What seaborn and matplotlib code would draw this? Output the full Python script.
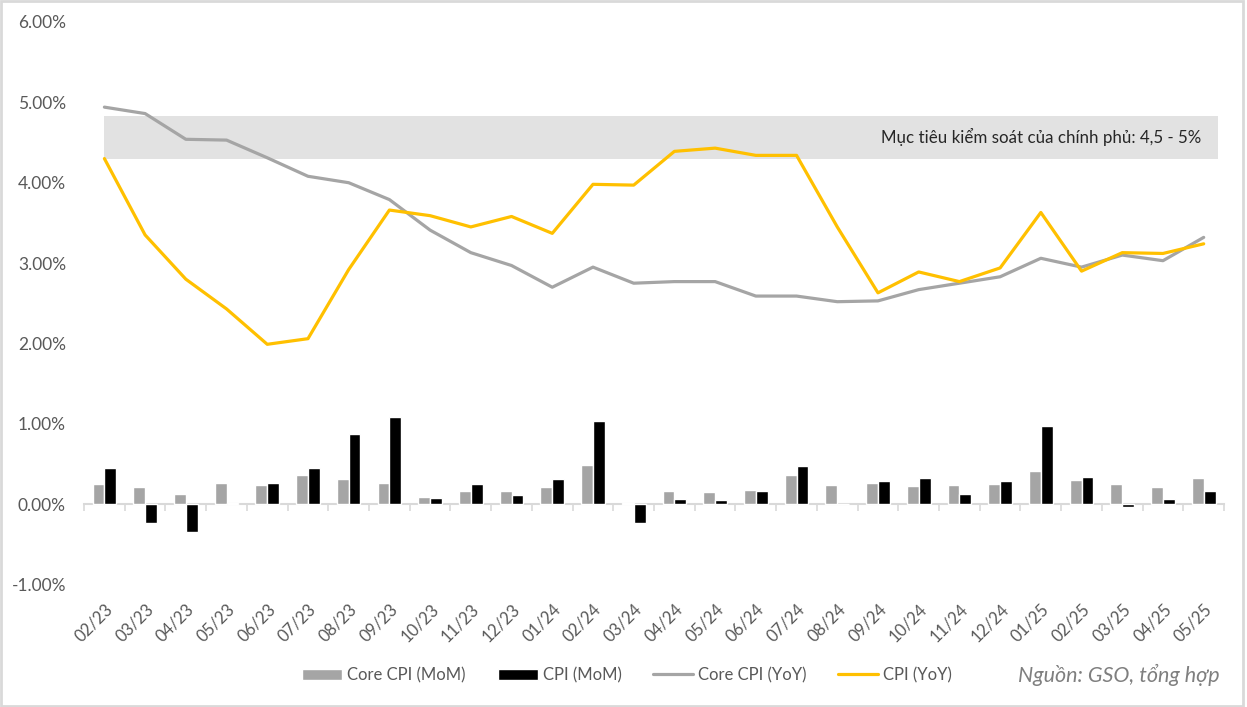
import numpy as np
import pandas as pd
import matplotlib
matplotlib.use("Agg")
import matplotlib.pyplot as plt
import seaborn as sns
from matplotlib.patches import Patch, Rectangle
from matplotlib.lines import Line2D

months = ["02/23", "03/23", "04/23", "05/23", "06/23", "07/23", "08/23", "09/23", "10/23",
          "11/23", "12/23", "01/24", "02/24", "03/24", "04/24", "05/24", "06/24", "07/24",
          "08/24", "09/24", "10/24", "11/24", "12/24", "01/25", "02/25", "03/25", "04/25", "05/25"]

core_mom = [0.25, 0.21, 0.13, 0.26, 0.24, 0.36, 0.31, 0.26, 0.09, 0.16, 0.16, 0.21, 0.49, 0.02,
            0.16, 0.15, 0.18, 0.36, 0.24, 0.26, 0.23, 0.24, 0.25, 0.41, 0.30, 0.25, 0.21, 0.33]
cpi_mom = [0.45, -0.23, -0.34, 0.01, 0.26, 0.45, 0.88, 1.08, 0.08, 0.25, 0.11, 0.31, 1.04, -0.23,
           0.07, 0.05, 0.17, 0.48, 0.00, 0.29, 0.33, 0.13, 0.29, 0.98, 0.34, -0.03, 0.07, 0.16]
core_yoy = [4.94, 4.86, 4.54, 4.53, 4.31, 4.08, 4.00, 3.79, 3.41, 3.13, 2.97, 2.70, 2.95, 2.75,
            2.77, 2.77, 2.59, 2.59, 2.52, 2.53, 2.67, 2.75, 2.83, 3.06, 2.95, 3.10, 3.03, 3.32]
cpi_yoy = [4.30, 3.35, 2.80, 2.43, 1.99, 2.06, 2.92, 3.66, 3.59, 3.45, 3.58, 3.37, 3.98, 3.97,
           4.39, 4.43, 4.34, 4.34, 3.45, 2.63, 2.89, 2.77, 2.94, 3.63, 2.90, 3.13, 3.12, 3.24]

band_lo, band_hi = 4.30, 4.83
band_label = "Mục tiêu kiểm soát của chính phủ: 4,5 - 5%"
source = "Nguồn: GSO, tổng hợp"

sns.set_theme(style="white")
plt.rcParams['font.family'] = ['Lato', 'DejaVu Sans']

GRAY = '#A5A5A5'
YELLOW = '#FFC000'
TXT = '#595959'

fig = plt.figure(figsize=(12.47, 7.07), dpi=100)
ax = fig.add_axes([0.0674, 0.173, 0.9142, 0.796])

df_mom = pd.DataFrame({
    'month': months * 2,
    'value': core_mom + cpi_mom,
    'series': ['Core CPI (MoM)'] * len(months) + ['CPI (MoM)'] * len(months),
})
sns.barplot(data=df_mom, x='month', y='value', hue='series', palette=[GRAY, 'black'],
            saturation=1, width=0.58, gap=0, legend=False, ax=ax, zorder=3)

x = np.arange(len(months))
ax.fill_between([0, 27.36], band_lo, band_hi, color='#E2E2E2', lw=0, zorder=1)
ax.text(26.95, (band_lo + band_hi) / 2, band_label, ha='right', va='center',
        fontsize=12.2, color='#262626', zorder=5)

sns.lineplot(x=x, y=core_yoy, color=GRAY, lw=2.3, ax=ax, zorder=4)
sns.lineplot(x=x, y=cpi_yoy, color=YELLOW, lw=2.3, ax=ax, zorder=4)

ax.set_xlim(-0.5, 27.5)
ax.set_ylim(-1, 6)
ax.set_yticks(np.arange(-1, 7, 1))
ax.set_yticklabels([f"{v:.2f}%" for v in np.arange(-1, 7, 1)])
ax.tick_params(axis='y', labelsize=12.5, labelcolor=TXT, length=0, pad=13)
ax.set_xticks(x)
ax.set_xticklabels(months, rotation=45, ha='right', rotation_mode='anchor')
ax.tick_params(axis='x', labelsize=12, labelcolor=TXT, length=0, pad=12)
ax.set_xlabel('')
ax.set_ylabel('')
for s in ax.spines.values():
    s.set_visible(False)

# zero axis line with category-boundary ticks
sec = ax.secondary_xaxis(1 / 7)
sec.set_xticks(np.arange(-0.5, 28, 1))
sec.tick_params(axis='x', length=5, width=1.2, color='#D9D9D9', labelbottom=False, labeltop=False)
sec.spines['bottom'].set_color('#D9D9D9')
sec.spines['bottom'].set_linewidth(1.5)
sec.spines['bottom'].set_zorder(2)

handles = [Patch(facecolor=GRAY, label='Core CPI (MoM)'),
           Patch(facecolor='black', label='CPI (MoM)'),
           Line2D([], [], color=GRAY, lw=2.3, label='Core CPI (YoY)'),
           Line2D([], [], color=YELLOW, lw=2.3, label='CPI (YoY)')]
fig.legend(handles=handles, loc='center', bbox_to_anchor=(0.503, 0.045), ncol=4, frameon=False,
           fontsize=12, labelcolor=TXT, handlelength=2.4, handletextpad=0.3, columnspacing=1.9)

fig.text(0.978, 0.045, source, ha='right', va='center', fontsize=15.5, style='italic', color='#7F7F7F')

fig.add_artist(Rectangle((0.001, 0.002), 0.996, 0.996, transform=fig.transFigure,
                         fill=False, edgecolor='#D9D9D9', lw=2))

fig.savefig('out.png', dpi=100)
